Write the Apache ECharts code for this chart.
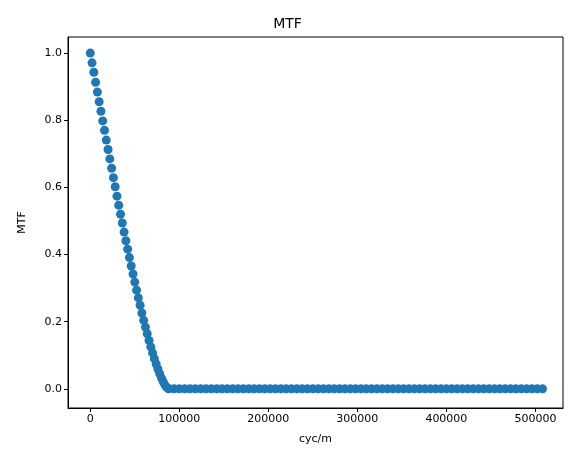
<!DOCTYPE html>
<html>
<head>
<meta charset="utf-8">
<script src="https://cdn.jsdelivr.net/npm/echarts@6/dist/echarts.min.js"></script>
<style>html,body{margin:0;padding:0;background:#fff}#chart{width:575px;height:452px}</style>
</head>
<body>
<div id="chart"></div>
<script>
// spatial frequency (cyc/m) and MTF
var freq = [0,2000,4000,6000,8000,10000,12000,14000,16000,18000,20000,22000,24000,26000,28000,30000,32000,34000,36000,38000,
  40000,42000,44000,46000,48000,50000,52000,54000,56000,58000,60000,62000,64000,66000,68000,70000,72000,74000,76000,78000,
  80000,82000,84000,86000,88000,
  94000,100000,106000,112000,118000,124000,130000,136000,142000,148000,154000,160000,166000,172000,178000,184000,190000,196000,202000,208000,
  214000,220000,226000,232000,238000,244000,250000,256000,262000,268000,274000,280000,286000,292000,298000,304000,310000,316000,322000,328000,
  334000,340000,346000,352000,358000,364000,370000,376000,382000,388000,394000,400000,406000,412000,418000,424000,430000,436000,442000,448000,
  454000,460000,466000,472000,478000,484000,490000,496000,502000,508000];
var mtf = [1,0.971,0.943,0.913,0.884,0.855,0.827,0.798,0.770,0.741,0.713,0.685,0.657,0.629,0.602,0.574,0.547,0.520,0.494,0.467,
  0.441,0.416,0.391,0.366,0.342,0.318,0.294,0.271,0.249,0.226,0.204,0.184,0.164,0.144,0.125,0.107,0.090,0.074,0.059,0.045,
  0.032,0.021,0.011,0.004,0,
  0,0,0,0,0,0,0,0,0,0,0,0,0,0,0,0,0,0,0,0,
  0,0,0,0,0,0,0,0,0,0,0,0,0,0,0,0,0,0,0,0,
  0,0,0,0,0,0,0,0,0,0,0,0,0,0,0,0,0,0,0,0,
  0,0,0,0,0,0,0,0,0,0];
var xTicks = [0,100000,200000,300000,400000,500000];
var yTicks = [0,0.2,0.4,0.6,0.8,1.0];

var points = [];
for (var i = 0; i < freq.length; i++) points.push([freq[i], mtf[i]]);

var chart = echarts.init(document.getElementById('chart'));
var txt = {color:'#000', fontFamily:'DejaVu Sans', fontSize:11};
chart.setOption({
  animation:false,
  title:{text:'MTF', left:'center', top:12, textStyle:{fontFamily:'DejaVu Sans', fontSize:14, fontWeight:'normal', color:'#000'}},
  grid:{left:68, right:12, top:37, bottom:44, show:true, borderColor:'#000', borderWidth:1},
  xAxis:{
    type:'value', min:-25000, max:531000,
    name:'cyc/m', nameLocation:'middle', nameGap:26, nameTextStyle:txt,
    axisLine:{onZero:false, lineStyle:{color:'#000'}},
    axisTick:{show:true, inside:false, length:4, customValues:xTicks, lineStyle:{color:'#000'}},
    axisLabel:Object.assign({customValues:xTicks, margin:6, formatter:function(v){return String(v);}}, txt),
    splitLine:{show:false}
  },
  yAxis:{
    type:'value', min:-0.057, max:1.048,
    name:'MTF', nameLocation:'middle', nameGap:40, nameTextStyle:txt,
    axisLine:{show:true, onZero:false, lineStyle:{color:'#000'}},
    axisTick:{show:true, inside:false, length:4, customValues:yTicks, lineStyle:{color:'#000'}},
    axisLabel:Object.assign({customValues:yTicks, margin:6, formatter:function(v){return v.toFixed(1);}}, txt),
    splitLine:{show:false}
  },
  series:[{
    type:'scatter', data:points, symbolSize:9,
    itemStyle:{color:'#1f77b4', opacity:1}
  }]
});
</script>
</body>
</html>
